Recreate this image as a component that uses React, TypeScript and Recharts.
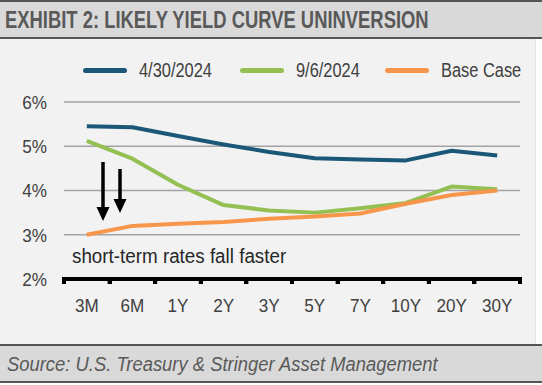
// Exhibit 2 — likely yield curve uninversion

import React from 'react';
import { LineChart, Line, XAxis, YAxis, CartesianGrid } from 'recharts';

// ── data ──

const TENORS = ['3M', '6M', '1Y', '2Y', '3Y', '5Y', '7Y', '10Y', '20Y', '30Y'];
const APR_30_2024 = [5.45, 5.43, 5.23, 5.04, 4.87, 4.73, 4.70, 4.68, 4.90, 4.79];
const SEP_6_2024 = [5.12, 4.72, 4.13, 3.67, 3.55, 3.50, 3.60, 3.72, 4.09, 4.03];
const BASE_CASE = [3.00, 3.20, 3.25, 3.29, 3.36, 3.41, 3.48, 3.70, 3.90, 4.00];
const Y_TICKS = [2, 3, 4, 5, 6];
const EDGE_TICKS = [0, 1, 2, 3, 4, 5, 6, 7, 8, 9, 10];

const SERIES = [
  { key: 'apr', name: '4/30/2024', color: '#1b5878', legendX: 83 },
  { key: 'sep', name: '9/6/2024', color: '#93bf53', legendX: 240 },
  { key: 'base', name: 'Base Case', color: '#f7964a', legendX: 385 },
];

// each tenor sits in the middle of its slot on a 0..10 axis
const chartData = TENORS.map((tenor, i) => ({
  tenor,
  pos: i + 0.5,
  apr: APR_30_2024[i],
  sep: SEP_6_2024[i],
  base: BASE_CASE[i],
}));

// ── layout / styles ──

const CHART_TOP = 39;
const CHART_W = 535;
const CHART_H = 305;
const MARGIN_TOP = 63;
const X_AXIS_H = 65;
const Y_AXIS_W = 64;
const RIGHT_PAD = 15;
const PLOT_W = CHART_W - Y_AXIS_W - RIGHT_PAD;
const SLOT = PLOT_W / TENORS.length;
const BASELINE_Y = CHART_TOP + CHART_H - X_AXIS_H; // 2% line, page coords

const FONT = "'Liberation Sans', Arial, sans-serif";
const TEXT = '#404040';
const BAND = '#d9d9d9';
const RULE = '#555555';

// narrow-font look: squeeze text horizontally
const narrow = (s: number): React.CSSProperties => ({
  display: 'inline-block',
  transform: `scaleX(${s})`,
  transformOrigin: 'left center',
  whiteSpace: 'nowrap',
});

// ── ticks ──

function TenorTick({ x, y, payload }: { x?: number; y?: number; payload?: { value: number } }) {
  const label = payload ? TENORS[payload.value] : undefined;
  if (label === undefined || x === undefined || y === undefined) return <g />;
  return (
    <text
      transform={`translate(${x + SLOT / 2},${y}) scale(0.9,1)`}
      textAnchor="middle"
      dy="0.71em"
      fontSize={19}
      fill={TEXT}
      fontFamily={FONT}
    >
      {label}
    </text>
  );
}

function PctTick({ x, y, payload }: { x?: number; y?: number; payload?: { value: number } }) {
  if (x === undefined || y === undefined || !payload) return <g />;
  return (
    <text
      transform={`translate(${x},${y}) scale(0.9,1)`}
      textAnchor="end"
      dy="0.355em"
      fontSize={19}
      fill={TEXT}
      fontFamily={FONT}
    >
      {`${payload.value}%`}
    </text>
  );
}

function Arrow({ x, y1, y2 }: { x: number; y1: number; y2: number }) {
  const head = 14;
  return (
    <g>
      <line x1={x} y1={y1} x2={x} y2={y2 - head + 1} stroke="#000" strokeWidth={3.5} />
      <polygon points={`${x - 6.5},${y2 - head} ${x + 6.5},${y2 - head} ${x},${y2}`} fill="#000" />
    </g>
  );
}

export default function App() {
  return (
    <div style={{ position: 'fixed', left: 0, top: 0, width: 542, height: 385, background: '#fff', fontFamily: FONT }}>
      {/* header */}
      <div
        style={{
          position: 'absolute', left: 0, top: 0, width: 542, height: 35,
          background: BAND, borderTop: `2px solid ${RULE}`, borderBottom: `2px solid ${RULE}`,
        }}
      >
        <div style={{ position: 'absolute', left: 5, top: 4, fontSize: 23, fontWeight: 700, color: '#595959', lineHeight: '28px' }}>
          <span style={narrow(0.8)}>EXHIBIT 2: LIKELY YIELD CURVE UNINVERSION</span>
        </div>
      </div>

      {/* chart panel */}
      <div style={{ position: 'absolute', left: 0, top: CHART_TOP, width: CHART_W, height: CHART_H, background: '#f2f2f2', borderRight: '1px solid #e4e4e4' }}>
        <LineChart width={CHART_W} height={CHART_H} data={chartData} margin={{ top: MARGIN_TOP, right: RIGHT_PAD, bottom: 0, left: 0 }}>
          <CartesianGrid vertical={false} stroke="#a3a3a3" strokeWidth={1.5} />
          <YAxis
            type="number"
            domain={[2, 6]}
            ticks={Y_TICKS}
            axisLine={false}
            tickLine={false}
            tickSize={0}
            tickMargin={17}
            width={Y_AXIS_W}
            tick={<PctTick />}
          />
          <XAxis
            dataKey="pos"
            type="number"
            domain={[0, 10]}
            ticks={EDGE_TICKS}
            interval={0}
            tickSize={5}
            tickMargin={14}
            axisLine={{ stroke: '#000', strokeWidth: 4 }}
            tickLine={{ stroke: '#000', strokeWidth: 4 }}
            height={X_AXIS_H}
            tick={<TenorTick />}
          />
          {SERIES.map((s) => (
            <Line
              key={s.key}
              dataKey={s.key}
              name={s.name}
              stroke={s.color}
              strokeWidth={4}
              dot={false}
              strokeLinejoin="round"
              isAnimationActive={false}
            />
          ))}
        </LineChart>
      </div>

      {/* heavy baseline with slot-boundary ticks, as plain blocks on top */}
      <div style={{ position: 'absolute', left: Y_AXIS_W, top: BASELINE_Y - 2, width: PLOT_W, height: 4, background: '#000', zIndex: 5 }} />
      {EDGE_TICKS.map((t) => (
        <div
          key={t}
          style={{ position: 'absolute', left: Y_AXIS_W + t * SLOT - 2, top: BASELINE_Y - 2, width: 4, height: 7, background: '#000', zIndex: 5 }}
        />
      ))}

      {/* legend */}
      {SERIES.map((s) => (
        <div key={s.key} style={{ position: 'absolute', left: s.legendX, top: 58, display: 'flex', alignItems: 'center', gap: 12 }}>
          <div style={{ width: 44, height: 5, borderRadius: 3, background: s.color }} />
          <span style={{ fontSize: 20, color: TEXT, lineHeight: '24px', ...narrow(0.82) }}>{s.name}</span>
        </div>
      ))}

      {/* annotation */}
      <div style={{ position: 'absolute', left: 72, top: 244, fontSize: 20, color: '#262626', lineHeight: '24px' }}>
        <span style={narrow(0.94)}>short-term rates fall faster</span>
      </div>
      <svg width={40} height={70} viewBox="90 155 40 70" style={{ position: 'absolute', left: 90, top: 155 }}>
        <Arrow x={103} y1={162} y2={221} />
        <Arrow x={120} y1={169} y2={213} />
      </svg>

      {/* footer */}
      <div
        style={{
          position: 'absolute', left: 0, top: 344, width: 542, height: 35,
          background: BAND, borderTop: `2px solid ${RULE}`, borderBottom: `2px solid ${RULE}`,
        }}
      >
        <div style={{ position: 'absolute', left: 7, top: 5, fontSize: 20, fontStyle: 'italic', color: '#595959', lineHeight: '26px' }}>
          <span style={narrow(0.92)}>Source: U.S. Treasury &amp; Stringer Asset Management</span>
        </div>
      </div>
    </div>
  );
}
